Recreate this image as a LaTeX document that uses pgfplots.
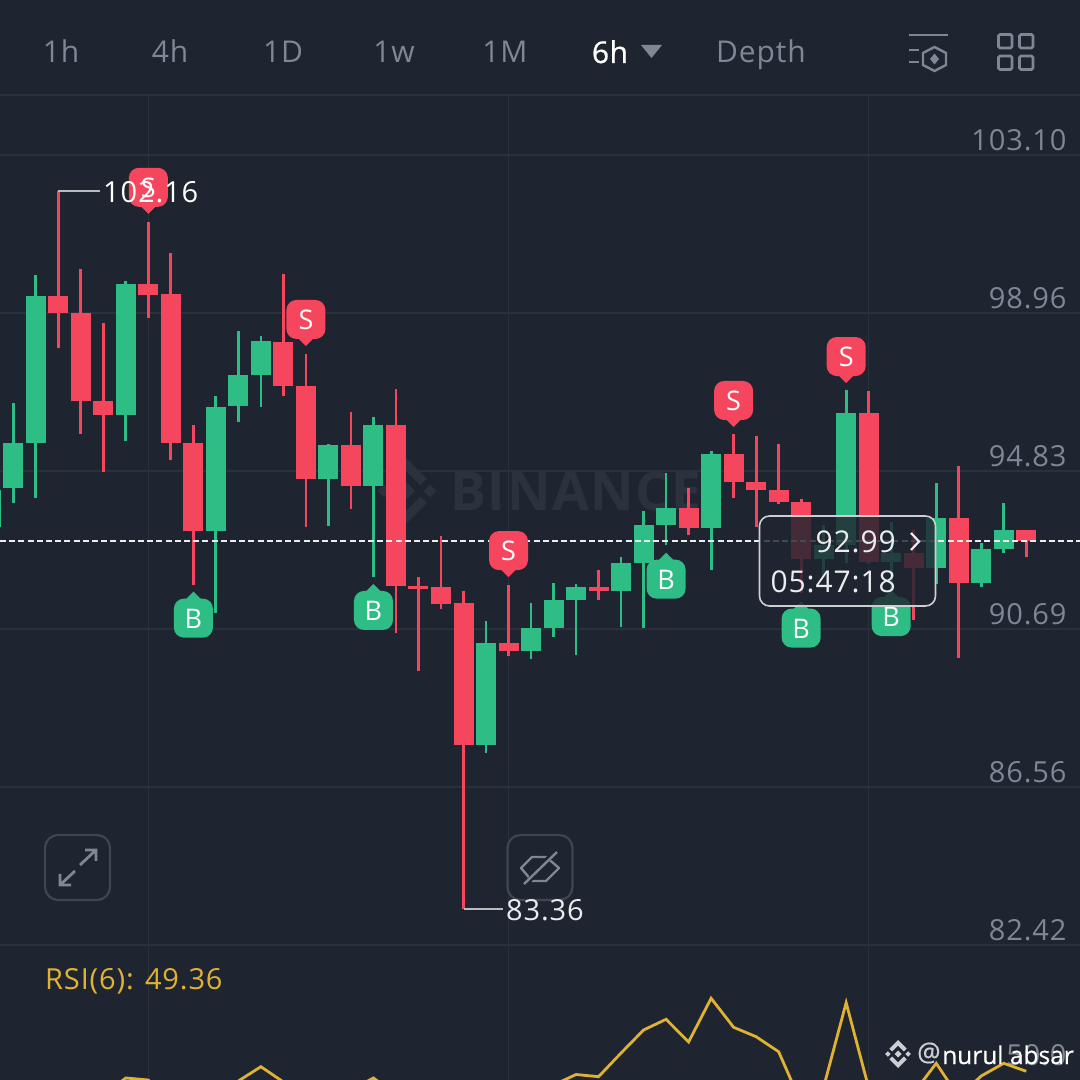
\documentclass[border=0pt]{standalone}
\usepackage{fontspec}
\setmainfont[LetterSpace=3]{Open Sans}
\newfontfamily\medfont[FakeBold=0.7,LetterSpace=2]{Open Sans}
\newfontfamily\sigfont[FakeBold=0.5]{Open Sans}
\usepackage{pgfplots}
\pgfplotsset{compat=1.18}
\definecolor{cbg}{HTML}{1F2530}
\definecolor{cgrid}{HTML}{2B313C}
\definecolor{cred}{HTML}{F6465D}
\definecolor{cgreen}{HTML}{2EBD85}
\definecolor{cgold}{HTML}{E0B233}
\definecolor{ctext}{HTML}{EAECEF}
\definecolor{cmute}{HTML}{7F8694}
\definecolor{cwm}{HTML}{2C323D}
\newcommand{\fs}[1]{\fontsize{#1}{#1}\selectfont}
\newcommand{\candle}[6]{%
  \addplot[color=#1,line width=2.8pt,forget plot] coordinates {(#2,#5)(#2,#4)};
  \addplot[color=#1,line width=20pt,forget plot] coordinates {(#2,#3)(#2,#6)};
}
\pgfdeclareplotmark{sflag}{%
  \pgfpathmoveto{\pgfqpoint{0pt}{0pt}}\pgfpathlineto{\pgfqpoint{-8pt}{8pt}}\pgfpathlineto{\pgfqpoint{8pt}{8pt}}\pgfpathclose\pgfusepathqfill
  \pgfsetcornersarced{\pgfqpoint{10pt}{10pt}}%
  \pgfpathmoveto{\pgfqpoint{0pt}{7pt}}\pgfpathlineto{\pgfqpoint{19.5pt}{7pt}}\pgfpathlineto{\pgfqpoint{19.5pt}{46pt}}\pgfpathlineto{\pgfqpoint{-19.5pt}{46pt}}\pgfpathlineto{\pgfqpoint{-19.5pt}{7pt}}\pgfpathclose\pgfusepath{fill}}
\pgfdeclareplotmark{bflag}{%
  \pgfpathmoveto{\pgfqpoint{0pt}{0pt}}\pgfpathlineto{\pgfqpoint{-8pt}{-8pt}}\pgfpathlineto{\pgfqpoint{8pt}{-8pt}}\pgfpathclose\pgfusepathqfill
  \pgfsetcornersarced{\pgfqpoint{10pt}{10pt}}%
  \pgfpathmoveto{\pgfqpoint{0pt}{-7pt}}\pgfpathlineto{\pgfqpoint{19.5pt}{-7pt}}\pgfpathlineto{\pgfqpoint{19.5pt}{-46pt}}\pgfpathlineto{\pgfqpoint{-19.5pt}{-46pt}}\pgfpathlineto{\pgfqpoint{-19.5pt}{-7pt}}\pgfpathclose\pgfusepath{fill}}
% Binance logo, centre (#1,#2), half size #3, colour #4 (decoration)
\newcommand{\bnlogo}[4]{%
  \begin{scope}[shift={(#1,#2)},x=#3pt,y=#3pt,line cap=butt,line join=miter]
    \fill[#4] (0,-.25)--(.25,0)--(0,.25)--(-.25,0)--cycle;
    \fill[#4] (-.72,-.2)--(-.52,0)--(-.72,.2)--(-.92,0)--cycle;
    \fill[#4] (.72,-.2)--(.92,0)--(.72,.2)--(.52,0)--cycle;
    \fill[#4] (0,-1)--(.62,-.38)--(.42,-.18)--(0,-.6)--(-.42,-.18)--(-.62,-.38)--cycle;
    \fill[#4] (0,1)--(.62,.38)--(.42,.18)--(0,.6)--(-.42,.18)--(-.62,.38)--cycle;
  \end{scope}}
\begin{document}
\begin{tikzpicture}
\useasboundingbox (0,0) rectangle (1080pt,1080pt);
\clip (0,0) rectangle (1080pt,1080pt);
\fill[cbg] (0,0) rectangle (1080pt,1080pt);
% centre watermark
\begin{scope}[shift={(0,1080pt)},x=1pt,y=-1pt]
  \bnlogo{407}{491}{32}{cwm}
  \node[anchor=west,inner sep=0pt,text=cwm,font=\fs{53.5}\bfseries] at (450,491) {BINANCE};
\end{scope}
\begin{axis}[
  at={(0,135pt)},anchor=south west,scale only axis,width=1080pt,height=849pt,
  xmin=-0.591,xmax=47.387,ymin=82.42,ymax=104.644,
  axis line style={draw=none},major tick length=0pt,
  xtick={6,22,38},xticklabels={,,},
  ytick={82.42,86.56,90.69,94.83,98.96,103.10},
  yticklabels={82.42,86.56,90.69,94.83,98.96,103.10},
  ytick pos=right,yticklabel pos=right,
  yticklabel style={anchor=east,xshift=-10pt,yshift=15pt,text=cmute,font=\fs{29}},
  grid=major,
  x grid style={cgrid,line width=1.3pt},
  y grid style={cgrid,line width=2pt},
]
\candle{cgreen}{-1}{93.36}{94.90}{93.00}{94.33}
\candle{cgreen}{0}{94.37}{96.60}{93.98}{95.57}
\candle{cgreen}{1}{95.57}{99.96}{94.13}{99.41}
\candle{cred}{2}{99.41}{102.16}{98.04}{98.97}
\candle{cred}{3}{98.97}{100.12}{95.79}{96.67}
\candle{cred}{4}{96.65}{98.69}{94.81}{96.29}
\candle{cgreen}{5}{96.29}{99.79}{95.61}{99.73}
\candle{cred}{6}{99.72}{101.34}{98.84}{99.44}
\candle{cred}{7}{99.46}{100.54}{95.12}{95.57}
\candle{cred}{8}{95.57}{96.02}{91.84}{93.26}
\candle{cgreen}{9}{93.26}{96.79}{91.12}{96.50}
\candle{cgreen}{10}{96.53}{98.49}{96.10}{97.33}
\candle{cgreen}{11}{97.33}{98.36}{96.50}{98.22}
\candle{cred}{12}{98.21}{99.98}{96.79}{97.06}
\candle{cred}{13}{97.05}{97.89}{93.36}{94.62}
\candle{cgreen}{14}{94.62}{95.53}{93.39}{95.50}
\candle{cred}{15}{95.50}{96.37}{93.84}{94.44}
\candle{cgreen}{16}{94.44}{96.23}{92.06}{96.03}
\candle{cred}{17}{96.03}{96.97}{90.59}{91.82}
\candle{cred}{18}{91.82}{92.04}{89.59}{91.73}
\candle{cred}{19}{91.78}{93.13}{91.22}{91.35}
\candle{cred}{20}{91.36}{91.69}{83.36}{87.66}
\candle{cgreen}{21}{87.66}{90.91}{87.45}{90.32}
\candle{cred}{22}{90.32}{91.85}{89.98}{90.12}
\candle{cgreen}{23}{90.12}{91.36}{89.90}{90.71}
\candle{cgreen}{24}{90.71}{91.90}{90.47}{91.45}
\candle{cgreen}{25}{91.45}{91.86}{90.00}{91.78}
\candle{cred}{26}{91.79}{92.24}{91.45}{91.69}
\candle{cgreen}{27}{91.69}{92.58}{90.75}{92.42}
\candle{cgreen}{28}{92.43}{93.79}{90.72}{93.41}
\candle{cgreen}{29}{93.42}{94.77}{92.89}{93.85}
\candle{cred}{30}{93.85}{94.38}{93.16}{93.34}
\candle{cgreen}{31}{93.33}{95.35}{92.24}{95.27}
\candle{cred}{32}{95.27}{95.80}{94.13}{94.55}
\candle{cred}{33}{94.55}{95.74}{93.37}{94.34}
\candle{cred}{34}{94.34}{95.53}{93.96}{94.01}
\candle{cred}{35}{94.01}{94.09}{91.63}{92.52}
\candle{cgreen}{36}{92.52}{93.41}{92.06}{92.89}
\candle{cgreen}{37}{92.89}{96.95}{92.41}{96.35}
\candle{cred}{38}{96.35}{96.92}{92.39}{92.45}
\candle{cgreen}{39}{92.45}{93.50}{91.63}{92.67}
\candle{cred}{40}{92.67}{93.28}{90.93}{92.29}
\candle{cgreen}{41}{92.28}{94.51}{91.87}{93.59}
\candle{cred}{42}{93.59}{94.97}{89.92}{91.89}
\candle{cgreen}{43}{91.89}{92.93}{91.80}{92.79}
\candle{cgreen}{44}{92.79}{94.00}{92.69}{93.28}
\candle{cred}{45}{93.28}{93.28}{92.57}{92.99}
% last price
\addplot[forget plot,color=ctext,line width=1.5pt,dash pattern=on 6pt off 3.2pt] coordinates {(-0.591,92.99)(47.387,92.99)};
% sell flags
\addplot[forget plot,only marks,mark=sflag,color=cred,mark options={fill=cred,draw=none},
  nodes near coords={S},
  nodes near coords style={anchor=center,yshift=26pt,text=white,font=\fs{27},inner sep=0pt}]
  coordinates {(6,101.56)(13,98.10)(22,92.05)(32,95.98)(37,97.13)};
% buy flags
\addplot[forget plot,only marks,mark=bflag,color=cgreen,mark options={fill=cgreen,draw=none},
  nodes near coords={B},
  nodes near coords style={anchor=center,yshift=-27pt,text=white,font=\fs{27},inner sep=0pt}]
  coordinates {(8,91.67)(16,91.87)(29,92.69)(35,91.41)(39,91.71)};
% high / low leaders
\addplot[forget plot,color=ctext!75!cbg,line width=1.5pt] coordinates {(2,102.16)(3.85,102.16)};
\addplot[forget plot,color=ctext!75!cbg,line width=1.5pt] coordinates {(20,83.36)(21.75,83.36)};
\end{axis}
\begin{axis}[
  at={(0,0)},anchor=south west,scale only axis,width=1080pt,height=135pt,
  xmin=-0.591,xmax=47.387,ymin=45,ymax=112.5,
  axis line style={draw=none},major tick length=0pt,
  xtick={6,22,38},xticklabels={,,},
  ytick={50},yticklabels={50.0},
  ytick pos=right,yticklabel pos=right,
  yticklabel style={anchor=east,xshift=-10pt,yshift=15pt,text=cmute,font=\fs{29}},
  xmajorgrids,x grid style={cgrid,line width=1.3pt},
]
\addplot[color=cgold,line width=2.8pt,line join=miter] coordinates {
(4,37.5)(5,46)(6,45)(7,32.5)(8,27.5)(9,37.5)(10,44.5)(11,51.65)(12,44)(13,35)(14,37.5)(15,40)
(16,46)(17,37.5)(18,32.5)(19,30)(20,22.5)(21,27.5)(22,30)(23,35)(24,42.5)(25,47.75)(26,46.65)
(27,58.5)(28,70)(29,75.35)(30,64)(31,85.85)(32,71.35)(33,66.65)(34,59.15)(35,33.5)(36,41.5)
(37,83.65)(38,41)(39,35)(40,38.5)(41,53.35)(42,36.5)(43,47)(44,53.35)(45,49.36)};
\end{axis}
% chrome drawn in image pixels
\begin{scope}[shift={(0,1080pt)},x=1pt,y=-1pt]
  \draw[cgrid,line width=2pt] (0,95)--(1080,95);
  \foreach \t/\x in {1h/61,4h/170,1D/283,1w/394,1M/505,Depth/761}
    \node[anchor=base,text=cmute,font=\fs{30},inner sep=0pt] at (\x,63) {\t};
  \node[anchor=base,text=white,font=\fs{30}\medfont,inner sep=0pt] at (610,63) {6h};
  \fill[cmute] (641,45)--(662,45)--(651.5,58)--cycle;
  % list icon
  \draw[cmute,line width=2.6pt] (909,35)--(948,35) (909,50)--(919,50) (909,62)--(919,62);
  \draw[cmute,line width=2.4pt] (934.5,47)--(946,53)--(946,65)--(934.5,71)--(923,65)--(923,53)--cycle;
  \fill[cmute] (934.5,53.5)--(939,59)--(934.5,64.5)--(930,59)--cycle;
  % grid icon
  \draw[cmute,line width=2.6pt,rounded corners=1.5pt] (998.5,34.5) rectangle (1012,48) (1019.5,34.5) rectangle (1033,48) (998.5,56) rectangle (1012,69.5) (1019.5,56) rectangle (1033,69.5);
  % buttons
  \draw[cgrid!90!white,line width=2.2pt,rounded corners=13pt] (45,835) rectangle (110,900);
  \draw[cgrid!90!white,line width=2.2pt,rounded corners=13pt] (507.5,835) rectangle (572.5,900);
  \draw[cmute,line width=2.8pt] (80,865)--(96,850) (85,850)--(96,850)--(96,861);
  \draw[cmute,line width=2.8pt] (75,871)--(60,885) (60,874)--(60,885)--(71,885);
  \draw[cmute,line width=2.4pt,line join=round] (521,868)--(532,857)--(546,857)--(559,868)--(546,881)--(532,881)--cycle;
  \draw[cbg,line width=5pt] (527,883)--(554,852);
  \draw[cmute,line width=2.4pt] (524,884)--(557,852);
  % high and low values
  \node[anchor=west,inner sep=0pt,text=white,font=\fs{29}] at (103,192) {102.16};
  \node[anchor=west,inner sep=0pt,text=ctext,font=\fs{29}] at (506,910) {83.36};
  % RSI title
  \node[anchor=west,inner sep=0pt,text=cgold,font=\fs{29}] at (45,981) {RSI(6): 49.36};
  % tooltip
  \draw[fill=cbg,fill opacity=.82,draw=ctext!85!cbg,draw opacity=1,line width=1.6pt,rounded corners=10pt] (759.5,516) rectangle (935.5,606);
  \node[anchor=east,inner sep=0pt,text=ctext,font=\fs{30}] at (896,542) {92.99};
  \draw[ctext,line width=2.2pt] (911,533)--(919,541.5)--(911,550);
  \node[anchor=east,inner sep=0pt,text=ctext,font=\fs{30}] at (896,582) {05:47:18};
  % bottom right signature
  \bnlogo{898}{1054}{14}{ctext!85!cbg}
  \node[anchor=west,inner sep=0pt,text=ctext!85!cbg,font=\fs{26}\sigfont] at (917,1053) {@};
  \node[anchor=base west,inner sep=0pt,text=white,font=\fs{24.5}\sigfont] at (942,1064) {nurul absar};
\end{scope}
\end{tikzpicture}
\end{document}
